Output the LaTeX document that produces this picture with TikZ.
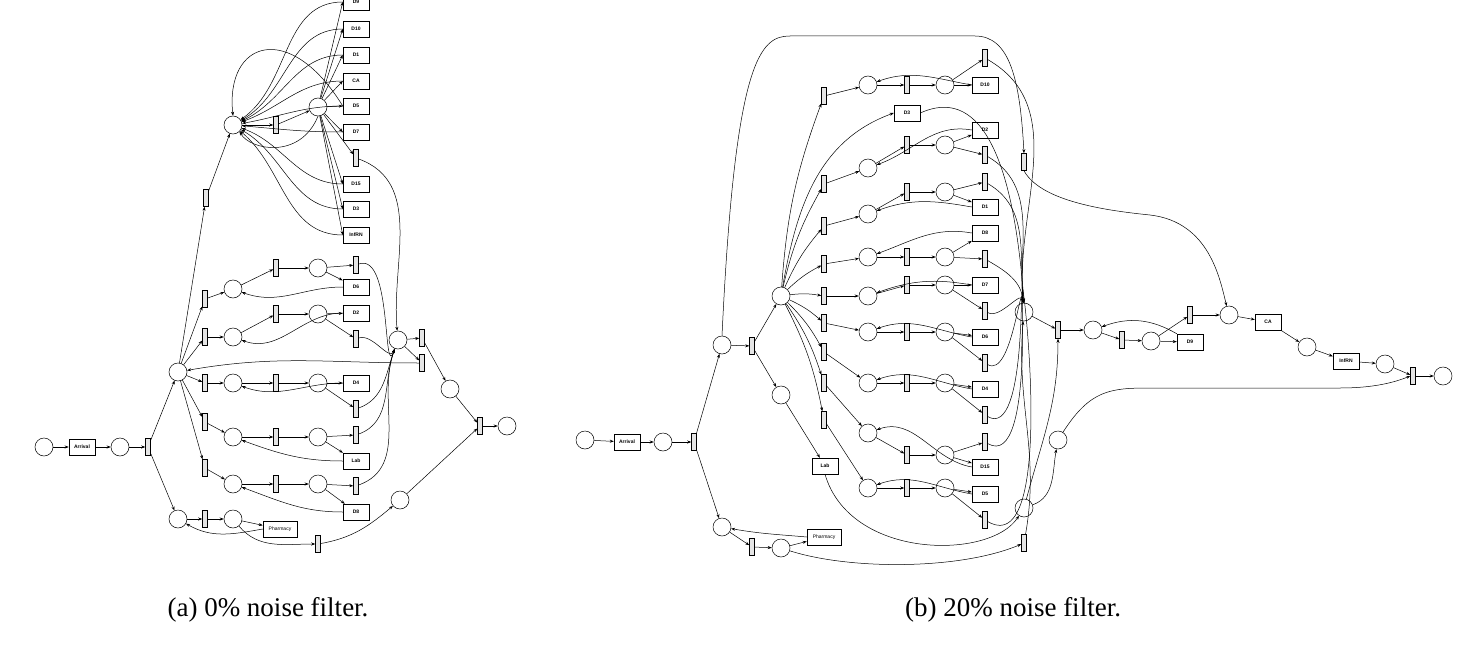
\documentclass[tikz,border=0pt]{standalone}
\usepackage{fontspec}
\setmainfont{Liberation Serif}
\setsansfont{Liberation Sans}
\usetikzlibrary{arrows.meta}
\begin{document}
\begin{tikzpicture}[x=1pt,y=-1pt,
  pl/.style={circle,draw,inner sep=0pt,minimum size=18pt},
  tr/.style={rectangle,draw,fill=gray!20,inner sep=0pt,minimum width=5pt,minimum height=17pt},
  bx/.style={rectangle,draw,inner sep=0pt,minimum width=26pt,minimum height=16pt,font=\sffamily\bfseries\fontsize{5}{5}\selectfont},
  ar/.style={-{Stealth[length=4pt,width=3pt]},line width=0.5pt},
  every path/.style={line width=0.5pt}]
\useasboundingbox (0,0) rectangle (1483,661);
% ================= panel (a)
\node[pl] (a0) at (44,447) {};
\node[bx] (aArr) at (82,447) {Arrival};
\node[pl] (a1) at (120,447) {};
\node[tr] (at1) at (148,447) {};
\node[pl] (aH) at (178,372) {};
\node[tr] (atU) at (206,198) {};
\node[pl] (aP1) at (233,125) {};
\node[tr] (atP) at (276,125) {};
\node[pl] (aP2) at (318,107) {};
\node[tr] (atX) at (356,158) {};
\node[pl] (aJ) at (398,340) {};
\node[tr] (atO) at (422,338) {};
\node[tr] (atB) at (422,363) {};
\node[pl] (aPo) at (450,389) {};
\node[tr] (atE) at (480,426) {};
\node[pl] (aEnd) at (507,426) {};
\node[pl] (aPh) at (178,519) {};
\node[tr] (atph) at (205,519) {};
\node[pl] (apph) at (233,519) {};
\node[bx,minimum width=34pt] (aPharm) at (280,529) {\mdseries Pharmacy};
\node[tr] (atq) at (318,544) {};
\node[pl] (aPq) at (400,500) {};
\draw[ar] (a0)--(aArr); \draw[ar] (aArr)--(a1); \draw[ar] (a1)--(at1);
\draw[ar] (at1)--(aH); \draw[ar] (at1)--(aPh);
\draw[ar] (aH)--(atU); \draw[ar] (atU)--(aP1);
\draw[ar] (aP1)--(atP); \draw[ar] (atP)--(aP2);
\draw[ar] (aP2)--(atX);
\draw[ar] (atX) to[out=-20,in=95] (aJ);
\foreach \n/\y/\lab/\ang in {9/2/D9/35,10/29/D10/30,1/55/D1/25,CA/81/CA/20,5/106/D5/10,7/132/D7/-5,15/184/D15/-20,3/209/D3/-30,I/235/InfRN/-40}{
  \node[bx] (aB\n) at (356,\y) {\lab};
  \draw[ar] (aP2)--(aB\n.west);
  \draw[ar] (aB\n.west) to[out=180,in=\ang] (aP1);
}
\draw[ar] (aB5.west) .. controls (290,20) and (225,40) .. (aP1.north);
\draw[ar] (aP2.south) .. controls (300,160) and (250,150) .. (aP1.south east);
\foreach \n/\ya/\yb/\yc/\yd/\ye/\yf/\lab in {6/299/289/268/268/287/265/D6,2/337/337/314/314/313/339/D2,4/383/383/383/383/383/409/D4,L/422/437/437/437/461/435/Lab,8/468/484/484/484/512/486/D8}{
  \node[tr] (ra\n) at (205,\ya) {};
  \node[pl] (rp\n) at (233,\yb) {};
  \node[tr] (rb\n) at (276,\yc) {};
  \node[pl] (rq\n) at (318,\yd) {};
  \node[bx] (rB\n) at (356,\ye) {\lab};
  \node[tr] (rc\n) at (356,\yf) {};
  \draw[ar] (aH)--(ra\n); \draw[ar] (ra\n)--(rp\n); \draw[ar] (rp\n)--(rb\n);
  \draw[ar] (rb\n)--(rq\n); \draw[ar] (rq\n)--(rB\n); \draw[ar] (rq\n)--(rc\n);
  \draw[ar] (rB\n.west) to[out=180,in=-20] (rp\n);
  \draw[ar] (rc\n) to[out=20,in=-110] (aJ);
}
\draw[ar] (aJ)--(atO); \draw[ar] (aJ)--(atB);
\draw[ar] (atB.west) to[out=180,in=10] (aH);
\draw[ar] (atO)--(aPo); \draw[ar] (aPo)--(atE); \draw[ar] (atE)--(aEnd);
\draw[ar] (aPh)--(atph); \draw[ar] (atph)--(apph); \draw[ar] (apph)--(aPharm);
\draw[ar] (aPharm.west) to[out=190,in=-30] (aPh);
\draw[ar] (apph) to[out=-50,in=180] (atq);
\draw[ar] (atq) to[out=10,in=-140] (aPq);
\draw[ar] (aPq)--(atE);
% ================= panel (b)
\node[pl] (b0) at (585,440) {};
\node[bx] (bArr) at (627,442) {Arrival};
\node[pl] (b1) at (663,442) {};
\node[tr] (bt0) at (694,442) {};
\node[pl] (bPu) at (722,345) {};
\node[tr] (bt1) at (752,346) {};
\node[pl] (bH) at (781,296) {};
\node[pl] (bPl) at (781,395) {};
\node[bx] (bLab) at (825,466) {Lab};
\node[pl] (bPx) at (1024,508) {};
\node[pl] (bPd) at (722,527) {};
\node[tr] (btd) at (752,547) {};
\node[pl] (bpd) at (781,548) {};
\node[bx,minimum width=34pt] (bPharm) at (824,537) {\mdseries Pharmacy};
\node[tr] (btq) at (1024,543) {};
\node[pl] (bPy) at (1058,440) {};
\node[bx] (bD3) at (907,113) {D3};
\node[pl] (bJ) at (1024,312) {};
\node[tr] (btT) at (1024,162) {};
\node[tr] (btJ) at (1058,330) {};
\node[pl] (bP9) at (1093,330) {};
\node[tr] (bt9) at (1122,340) {};
\node[pl] (bp9) at (1151,341) {};
\node[bx] (bD9) at (1190,342) {D9};
\node[tr] (btc) at (1190,315) {};
\node[pl] (bPc) at (1229,315) {};
\node[bx] (bCA) at (1268,322) {CA};
\node[pl] (bPi) at (1307,347) {};
\node[bx] (bInf) at (1346,361) {InfRN};
\node[pl] (bPr) at (1385,364) {};
\node[tr] (bTend) at (1413,376) {};
\node[pl] (bEnd) at (1443,376) {};
\draw[ar] (b0)--(bArr); \draw[ar] (bArr)--(b1); \draw[ar] (b1)--(bt0);
\draw[ar] (bt0)--(bPu); \draw[ar] (bt0)--(bPd);
\draw[ar] (bPu)--(bt1); \draw[ar] (bt1)--(bH); \draw[ar] (bt1)--(bPl);
\draw[ar] (bPl)--(bLab);
\draw[ar] (bLab.south) .. controls (850,560) and (990,560) .. (bPx);
\draw[ar] (bPx) to[out=75,in=-90] (btJ);
\draw[ar] (bPd)--(btd); \draw[ar] (btd)--(bpd); \draw[ar] (bpd)--(bPharm);
\draw[ar] (bPharm.west) to[out=175,in=-10] (bPd);
\draw[ar] (bpd) .. controls (850,570) and (960,570) .. (btq);
\draw[ar] (btq) to[out=80,in=-95] (bJ);
\draw[ar] (bPy) .. controls (1090,390) and (1110,388) .. (1150,388) -- (1340,388) .. controls (1380,388) and (1400,380) .. (bTend.west);
\draw[ar] (bPx) to[out=20,in=-100] (bPy);
\draw[ar] (bPu.north) .. controls (735,60) and (760,36) .. (790,36) -- (975,36) .. controls (1010,36) and (1020,80) .. (btT.north);
\draw[ar] (btT.south) .. controls (1040,200) and (1100,210) .. (1150,215) .. controls (1210,222) and (1220,280) .. (bPc);
\draw[ar] (bH) to[out=80,in=200] (bD3.west);
\draw[ar] (bD3.east) .. controls (960,95) and (1010,110) .. (bJ.north);
\foreach \n/\ya/\yb/\yc/\yd/\ye/\yf/\lab in {10/96/85/85/85/85/58/D10,2/184/168/145/145/130/155/D2,1/226/214/192/192/207/182/D1,8/264/257/257/257/233/259/D8,7/296/296/285/285/285/311/D7,6/323/332/332/332/337/363/D6,4/352/383/383/383/389/415/D4,15/383/433/455/455/467/442/D15,5/420/488/488/488/494/520/D5}{
  \node[tr] (sa\n) at (824,\ya) {};
  \node[pl] (sp\n) at (868,\yb) {};
  \node[tr] (sb\n) at (907,\yc) {};
  \node[pl] (sq\n) at (945,\yd) {};
  \node[bx] (sB\n) at (985,\ye) {\lab};
  \node[tr] (sc\n) at (985,\yf) {};
  \draw[ar] (bH) to[bend left=8] (sa\n); \draw[ar] (sa\n)--(sp\n); \draw[ar] (sp\n)--(sb\n);
  \draw[ar] (sb\n)--(sq\n); \draw[ar] (sq\n)--(sB\n); \draw[ar] (sq\n)--(sc\n);
  \draw[ar] (sB\n.west) to[out=170,in=20] (sp\n);
  \draw[ar] (sc\n) to[out=-30,in=95] (bJ);
}
\draw[ar] (bJ)--(btJ); \draw[ar] (btJ)--(bP9); \draw[ar] (bP9)--(bt9);
\draw[ar] (bt9)--(bp9); \draw[ar] (bp9)--(bD9);
\draw[ar] (bD9.north west) to[out=150,in=20] (bP9);
\draw[ar] (bp9)--(btc); \draw[ar] (btc)--(bPc); \draw[ar] (bPc)--(bCA);
\draw[ar] (bCA)--(bPi); \draw[ar] (bPi)--(bInf); \draw[ar] (bInf)--(bPr);
\draw[ar] (bPr)--(bTend); \draw[ar] (bTend)--(bEnd);
% captions
\node[font=\fontsize{27}{30}\selectfont] (capa) at (268,610) {(a) 0\% noise filter.};
\node[font=\fontsize{27}{30}\selectfont] (capb) at (1013,610) {(b) 20\% noise filter.};
\end{tikzpicture}
\end{document}
